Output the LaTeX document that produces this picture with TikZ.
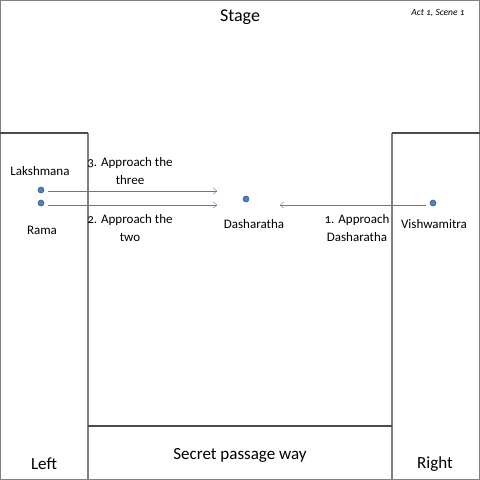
\documentclass[tikz,border=0pt]{standalone}
\usepackage{fontspec}
\setmainfont{Carlito}[Numbers=OldStyle]
\usetikzlibrary{positioning}
\usetikzlibrary{arrows.meta}
\tikzset{>={Straight Barb[width=2.2mm,length=1.2mm]}}
\definecolor{dotblue}{HTML}{4F81BD}
\definecolor{dotedge}{HTML}{385D8A}
\definecolor{arrowblue}{HTML}{4A7EBB}

\begin{document}
\begin{tikzpicture}[x=1pt,y=-1pt]
        \tikzstyle{wall} = [line width=1.2pt, draw=gray]
        \tikzstyle{edge} = [line width=1.2pt, draw=black!70]
        \tikzstyle{actor} = [circle, fill=dotblue, draw=dotedge, line width=0.6pt, inner sep=0pt, minimum size=6pt]
        \tikzstyle{lbl} = [inner sep=1pt, align=center, font=\fontsize{13}{18}\selectfont]
        \tikzstyle{move} = [->, thin, draw=arrowblue]

        \useasboundingbox (0,0) rectangle (480,480);
        \draw[wall] (0.6,0.6) rectangle (479.4,479.4);

        % wings and passage
        \draw[wall] (88,133) -- (88,480);
        \draw[wall] (392,133) -- (392,480);
        \draw[edge] (0,133) -- (88,133);
        \draw[edge] (392,133) -- (480,133);
        \draw[edge] (88,426) -- (392,426);

        \node[font=\fontsize{18}{20}\selectfont] (stage) at (240,17) {Stage};
        \node[font=\itshape\fontsize{9.5}{11}\selectfont] (act) at (438,13) {Act 1, Scene 1};
        \node[font=\fontsize{17}{20}\selectfont] (left) at (44,464) {Left};
        \node[font=\fontsize{17}{20}\selectfont] (right) at (435,464) {Right};
        \node[font=\fontsize{17}{20}\selectfont] (passage) at (240,455) {Secret passage way};

        % actors
        \node[actor] (lak) at (41,190) {};
        \node[actor] (rama) at (41,203) {};
        \node[actor] (dash) at (246,199) {};
        \node[actor] (vish) at (433,203) {};

        \node[lbl] (lakname) at (40,171) {Lakshmana};
        \node[lbl] (ramaname) at (42,230) {Rama};
        \node[lbl] (dashname) at (254,224) {Dasharatha};
        \node[lbl] (vishname) at (434,224) {Vishwamitra};

        \coordinate (t3) at (217,191);
        \coordinate (t2) at (217,205);
        \coordinate (t1) at (280,205);

        \draw[move] ([xshift=4pt,yshift=-1pt]lak.east) -- (t3);
        \draw[move] ([xshift=4pt,yshift=-2pt]rama.east) -- (t2);
        \draw[move] ([xshift=-4pt,yshift=-2pt]vish.west) -- (t1);

        \node[lbl] (step3) at (130,171) {3. Approach the\\three};
        \node[lbl] (step2) at (130,228) {2. Approach the\\two};
        \node[lbl] (step1) at (357,228) {1. Approach\\Dasharatha};
      \end{tikzpicture}
\end{document}
